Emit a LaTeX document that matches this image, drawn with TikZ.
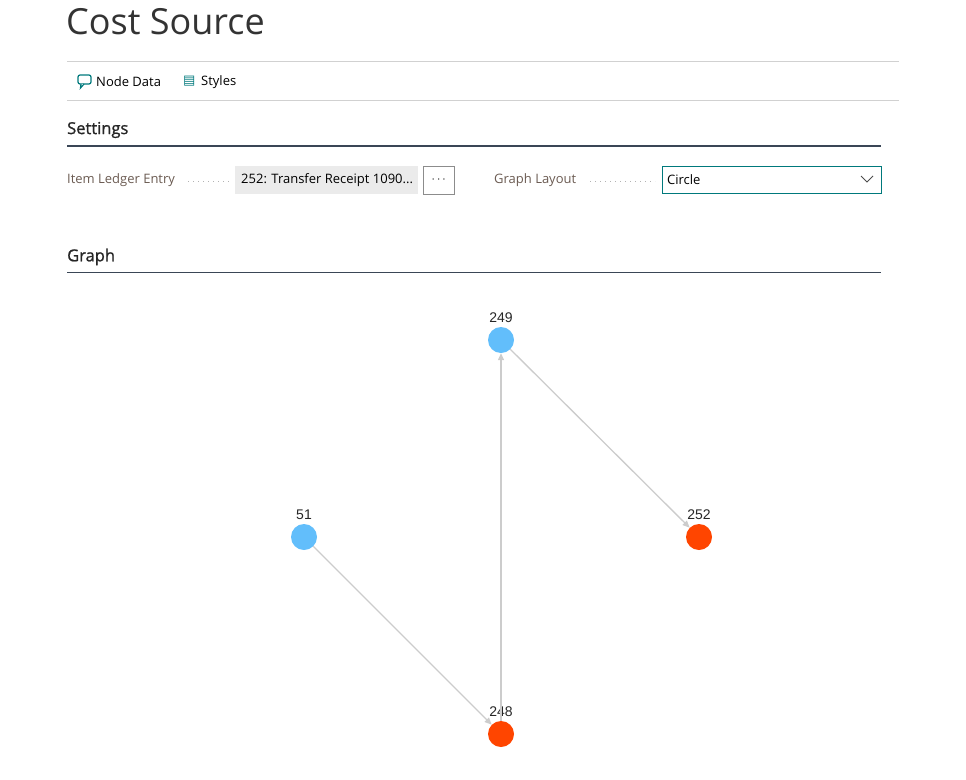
\documentclass[tikz,border=0pt]{standalone}
\usepackage{fontspec}
\setmainfont{Open Sans}
\newfontfamily\arialf{Liberation Sans}
\newfontfamily\djv{DejaVu Sans}
\usetikzlibrary{arrows.meta}
\definecolor{blue1}{HTML}{62BEFB}
\definecolor{red1}{HTML}{FF4500}
\definecolor{edgec}{HTML}{CCCCCC}
\definecolor{teal1}{HTML}{00797C}
\definecolor{lab}{HTML}{6B5B52}
\definecolor{head}{HTML}{3A4656}
\tikzset{
 gnode/.style={circle,minimum size=26pt,inner sep=0pt},
 glab/.style={font=\arialf\fontsize{14}{14}\selectfont,text=black!85,inner sep=0pt},
 edge/.style={draw=edgec,line width=1.3pt,-{Triangle[length=7pt,width=6pt]}},
 body/.style={font=\fontsize{13}{15}\selectfont,inner sep=0pt,anchor=west},
 heading/.style={font=\fontsize{16.5}{18}\selectfont\addfontfeatures{FakeBold=1.2},inner sep=0pt,anchor=west,text=black!85},
 leader/.style={black!30,line width=1pt,dash pattern=on 1pt off 4pt},
}
\begin{document}
\begin{tikzpicture}[x=1pt,y=-1pt]
\useasboundingbox (0,0) rectangle (966,779);
\node[inner sep=0pt,anchor=west,font=\fontsize{36}{40}\selectfont,text=black!80] (title) at (66,22) {Cost Source};
\draw[black!18,line width=1pt] (67,61) -- (899,61);
\draw[black!18,line width=1pt] (67,100) -- (899,100);
\draw[teal1,line width=1.2pt,rounded corners=2pt] (78,75) rectangle (91,84);
\fill[white] (80.5,83.5) rectangle (83.5,85);
\draw[teal1,line width=1.2pt] (81,84) -- (80.5,88) -- (84,84);
\node[body] (nd) at (96,82) {Node Data};
\node[body,text=teal1,font=\djv\fontsize{13}{14}\selectfont] (ic2) at (183,81) {▤};
\node[body] (st) at (201,82) {Styles};
\node[heading] (set) at (67,130) {Settings};
\draw[head,line width=1.5pt] (67,146) -- (881,146);
\node[body,text=lab] (ile) at (67,180) {Item Ledger Entry};
\draw[leader] (188,181) -- (230,181);
\node[fill=black!8,minimum width=183pt,minimum height=28pt,inner sep=0pt,anchor=west] (box1) at (235,180) {};
\node[body] (t1) at (241,180) {252: Transfer Receipt 1090...};
\node[draw=black!45,minimum width=31pt,minimum height=28pt,inner sep=0pt,anchor=west,font=\fontsize{12}{12}\selectfont] (btn) at (423,180) {$\cdots$};
\node[body,text=lab] (gl) at (494,180) {Graph Layout};
\draw[leader] (590,181) -- (655,181);
\node[draw=teal1,line width=1pt,minimum width=219pt,minimum height=27pt,inner sep=0pt,anchor=west] (dd) at (662,180) {};
\node[body] (circ) at (667,180) {Circle};
\draw[black!70,line width=0.8pt] (861,176) -- (867,182) -- (873,176);
\node[heading] (gr) at (67,257) {Graph};
\draw[head,line width=1pt] (67,272) -- (881,272);
\node[gnode,fill=blue1] (n249) at (501,340) {};
\node[gnode,fill=red1] (n252) at (699,537) {};
\node[gnode,fill=blue1] (n51) at (304,537) {};
\node[gnode,fill=red1] (n248) at (501,734) {};
\node[glab] (l249) at (501,318) {249};
\node[glab] (l252) at (699,515) {252};
\node[glab] (l51) at (304,515) {51};
\node[glab] (l248) at (501,712) {248};
\draw[edge] (n249) -- (n252);
\draw[edge] (n51) -- (n248);
\draw[edge] (n248) -- (n249);
\end{tikzpicture}
\end{document}
